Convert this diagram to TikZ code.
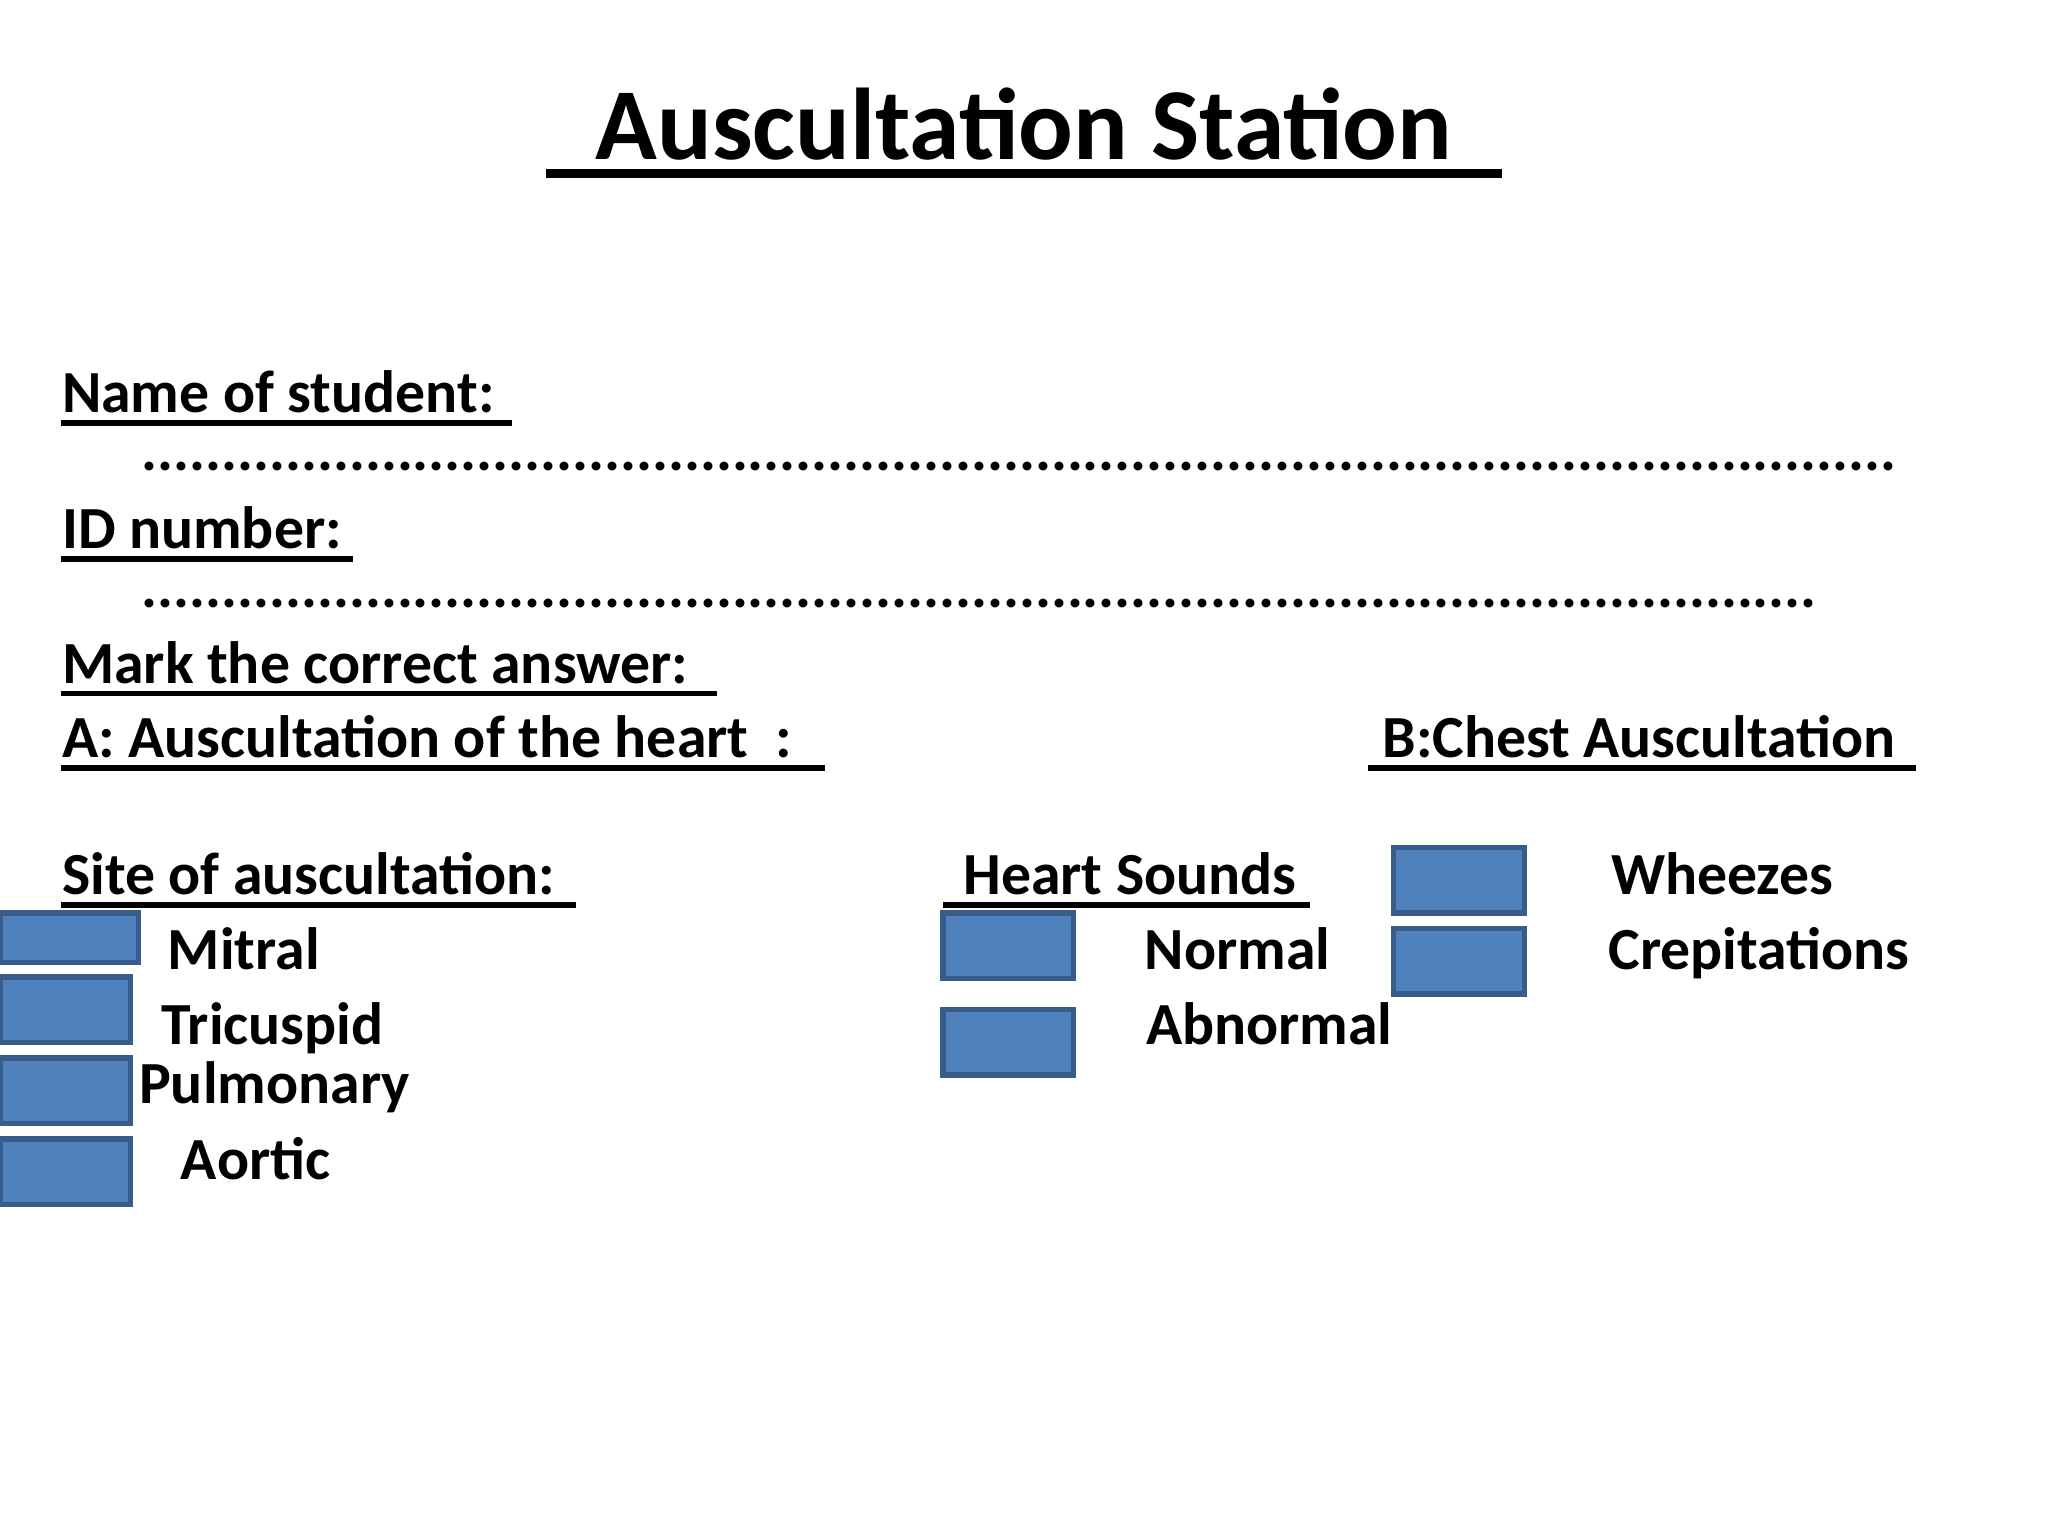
\documentclass[tikz,border=0pt]{standalone}
\usepackage{fontspec}
\setmainfont{Carlito}
\begin{document}
\begin{tikzpicture}[x=0.01306cm,y=-0.01306cm,
  lbl/.style={anchor=base west,inner sep=0pt,font=\bfseries\fontsize{17}{20}\selectfont},
  ul/.style={line width=1.6pt},
  chk/.style={draw=blue!40!black!80,fill=blue!50!cyan!30!gray!90,line width=1.3pt}]
\definecolor{boxfill}{HTML}{4F81BD}
\definecolor{boxdraw}{HTML}{385D8A}
\tikzset{chk/.style={draw=boxdraw,fill=boxfill,line width=1.5pt}}
\useasboundingbox[fill=white] (0,0) rectangle (1568,1176);
\node[anchor=base,inner sep=0pt,font=\bfseries\fontsize{29}{34}\selectfont] (title) at (784,122) {Auscultation Station};
\draw[line width=2.5pt] (418,133) -- (1150,133);
\node[lbl] (name) at (47,316) {Name of student:};
\draw[ul] (47,324) -- (392,324);
\node[lbl] (dots1) at (108,360) {\makebox[17.6cm][l]{\leaders\hbox{.}\hfill}};
\node[lbl] (id) at (47,420) {ID number:};
\draw[ul] (47,428) -- (270,428);
\node[lbl] (dots2) at (108,465) {\makebox[16.8cm][l]{\leaders\hbox{.}\hfill}};
\node[lbl] (mark) at (47,523) {Mark the correct answer:};
\draw[ul] (47,531) -- (549,531);
\node[lbl] (a) at (47,580) {A: Auscultation of the heart~~:};
\draw[ul] (47,588) -- (632,588);
\node[lbl] (b) at (1058,580) {B:Chest Auscultation};
\draw[ul] (1047,588) -- (1467,588);
\node[lbl] (site) at (47,685) {Site of auscultation:};
\draw[ul] (47,693) -- (441,693);
\node[lbl] (hs) at (737,685) {Heart Sounds};
\draw[ul] (722,693) -- (1003,693);
\node[lbl] (wh) at (1233,685) {Wheezes};
\node[lbl] (mi) at (128,742) {Mitral};
\node[lbl] (no) at (876,742) {Normal};
\node[lbl] (cr) at (1231,742) {Crepitations};
\node[lbl] (tr) at (123,800) {Tricuspid};
\node[lbl] (ab) at (877,800) {Abnormal};
\node[lbl] (pu) at (106,845) {Pulmonary};
\node[lbl] (ao) at (138,903) {Aortic};
\draw[chk] (0,699) rectangle (106,737);
\draw[chk] (0,748) rectangle (100,798);
\draw[chk] (0,810) rectangle (100,860);
\draw[chk] (0,872) rectangle (100,922);
\draw[chk] (722,699) rectangle (822,749);
\draw[chk] (722,773) rectangle (822,823);
\draw[chk] (1067,649) rectangle (1167,699);
\draw[chk] (1067,711) rectangle (1167,761);
\end{tikzpicture}
\end{document}
